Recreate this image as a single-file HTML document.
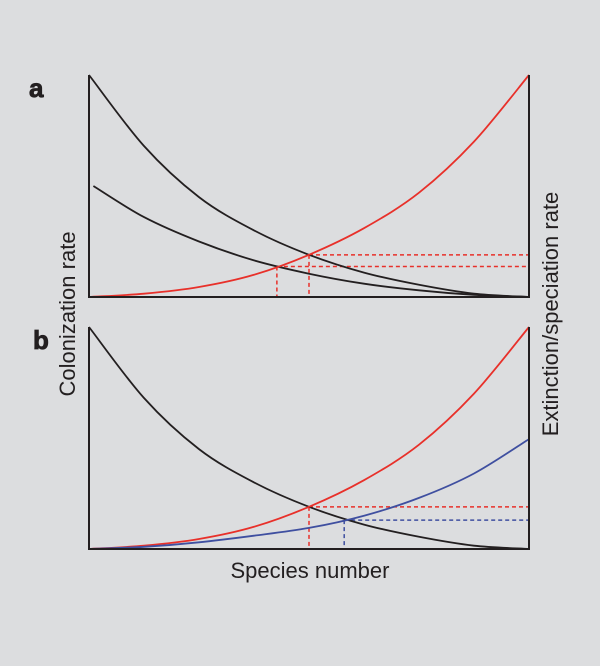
<!DOCTYPE html>
<html><head><meta charset="utf-8"><style>
html,body{margin:0;padding:0;background:#dcdddf;}
svg{display:block;font-family:"Liberation Sans",sans-serif;}
</style></head><body>
<svg id="chart" width="600" height="666" viewBox="0 0 600 666">
<rect width="600" height="666" fill="#dcdddf"/>
<text x="29" y="97" font-size="26" font-weight="bold" fill="#231f20" stroke="#231f20" stroke-width="0.8">a</text>
<text x="33" y="349" font-size="26" font-weight="bold" fill="#231f20" stroke="#231f20" stroke-width="0.8">b</text>
<text transform="translate(75,314) rotate(-90)" text-anchor="middle" font-size="22" fill="#231f20">Colonization rate</text>
<text transform="translate(558,314) rotate(-90)" text-anchor="middle" font-size="22" fill="#231f20">Extinction/speciation rate</text>
<text x="310" y="578" text-anchor="middle" font-size="22" fill="#231f20">Species number</text>
<g id="plots"></g>
</svg>
<script>
const xs = [0, 0.125, 0.25, 0.375, 0.5, 0.625, 0.75, 0.875, 1];
const colonHigh = [1.0, 0.68, 0.45, 0.30, 0.19, 0.11, 0.055, 0.015, 0];
const colonLowX = [0.01, 0.125, 0.25, 0.375, 0.5, 0.625, 0.75, 0.875, 1];
const colonLow = [0.5, 0.36, 0.25, 0.165, 0.105, 0.06, 0.03, 0.01, 0];
const extinctionRed = [0, 0.015, 0.045, 0.10, 0.19, 0.31, 0.47, 0.70, 1.0];
const speciationBlue = [0, 0.01, 0.03, 0.06, 0.095, 0.15, 0.23, 0.34, 0.495];
const eqA = [0.427, 0.5];
const eqB = [0.5, 0.58];

const NS = 'http://www.w3.org/2000/svg';
const g = document.getElementById('plots');
const panels = [{top:75,bottom:297,name:'a'},{top:327,bottom:549,name:'b'}];
const left = 89, right = 529;
function sx(v){return left + v*(right-left);}
function interp(xArr,yArr,x){
  for(let i=0;i<xArr.length-1;i++){
    if(x>=xArr[i]&&x<=xArr[i+1]){const t=(x-xArr[i])/(xArr[i+1]-xArr[i]);return yArr[i]+t*(yArr[i+1]-yArr[i]);}
  }
  return yArr[yArr.length-1];
}
function pathFor(xArr,yArr,sy){
  const p = xArr.map((x,i)=>[sx(x),sy(yArr[i])]);
  let d='M'+p[0][0].toFixed(1)+','+p[0][1].toFixed(1);
  for(let i=0;i<p.length-1;i++){
    const p0=p[i-1]||p[i],p1=p[i],p2=p[i+1],p3=p[i+2]||p[i+1];
    const c1=[p1[0]+(p2[0]-p0[0])/6,p1[1]+(p2[1]-p0[1])/6];
    const c2=[p2[0]-(p3[0]-p1[0])/6,p2[1]-(p3[1]-p1[1])/6];
    d+=' C'+c1[0].toFixed(1)+','+c1[1].toFixed(1)+' '+c2[0].toFixed(1)+','+c2[1].toFixed(1)+' '+p2[0].toFixed(1)+','+p2[1].toFixed(1);
  }
  return d;
}
function line(x1,y1,x2,y2,color,dash,name){
  const l=document.createElementNS(NS,'line');
  l.setAttribute('x1',x1);l.setAttribute('y1',y1);l.setAttribute('x2',x2);l.setAttribute('y2',y2);
  l.setAttribute('stroke',color);l.setAttribute('stroke-width',dash?1.5:2);
  if(dash)l.setAttribute('stroke-dasharray','4,3');
  
  
  g.appendChild(l);
}
function curve(xArr,yArr,sy,color,name){
  const p=document.createElementNS(NS,'path');
  p.setAttribute('d',pathFor(xArr,yArr,sy));
  p.setAttribute('fill','none');p.setAttribute('stroke',color);p.setAttribute('stroke-width',1.8);
  
  
  g.appendChild(p);
}
panels.forEach(pn=>{
  const sy=v=>pn.bottom - v*(pn.bottom-pn.top);
  const n=pn.name;
  if(n==='a'){
    const e0=eqA[0], e1=eqA[1];
    const v0=interp(xs,extinctionRed,e0), v1=interp(xs,extinctionRed,e1);
    line(sx(e0),sy(v0),sx(e0),pn.bottom,'#e8302a',true,'equilibrium-a-low-vertical');
    line(sx(e0),sy(v0),right,sy(v0),'#e8302a',true,'equilibrium-a-low-horizontal');
    line(sx(e1),sy(v1),sx(e1),pn.bottom,'#e8302a',true,'equilibrium-a-high-vertical');
    line(sx(e1),sy(v1),right,sy(v1),'#e8302a',true,'equilibrium-a-high-horizontal');
    curve(xs,colonHigh,sy,'#231f20','colonization-high-a');
    curve(colonLowX,colonLow,sy,'#231f20','colonization-low-a');
    curve(xs,extinctionRed,sy,'#e8302a','extinction-curve-a');
  } else {
    const e0=eqB[0], e1=eqB[1];
    const v0=interp(xs,extinctionRed,e0), v1=interp(xs,speciationBlue,e1);
    line(sx(e0),sy(v0),sx(e0),pn.bottom,'#e8302a',true,'equilibrium-b-red-vertical');
    line(sx(e0),sy(v0),right,sy(v0),'#e8302a',true,'equilibrium-b-red-horizontal');
    line(sx(e1),sy(v1),sx(e1),pn.bottom,'#3f4fa0',true,'equilibrium-b-blue-vertical');
    line(sx(e1),sy(v1),right,sy(v1),'#3f4fa0',true,'equilibrium-b-blue-horizontal');
    curve(xs,colonHigh,sy,'#231f20','colonization-curve-b');
    curve(xs,extinctionRed,sy,'#e8302a','extinction-curve-b');
    curve(xs,speciationBlue,sy,'#3f4fa0','speciation-curve-b');
  }
  line(left,pn.top,left,pn.bottom+1,'#231f20',false,'left-axis-'+n);
  line(right,pn.top,right,pn.bottom+1,'#231f20',false,'right-axis-'+n);
  line(left,pn.bottom,right+1,pn.bottom,'#231f20',false,'x-axis-'+n);
});
</script>
</body></html>
